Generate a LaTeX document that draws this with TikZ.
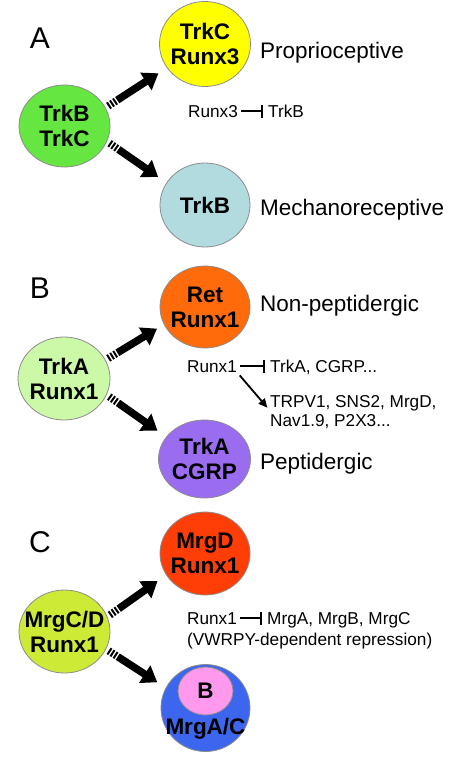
\documentclass[tikz,border=0pt]{standalone}
\usepackage{fontspec}
\setmainfont{Liberation Sans}
\usetikzlibrary{arrows.meta,shapes.geometric}
\definecolor{cTrkBC}{HTML}{66E641}
\definecolor{cTrkCR}{HTML}{FFFF00}
\definecolor{cTrkB}{HTML}{B2DBDF}
\definecolor{cTrkAR}{HTML}{CCF9A8}
\definecolor{cRet}{HTML}{FF6A0A}
\definecolor{cCGRP}{HTML}{9A6CF0}
\definecolor{cMrgCD}{HTML}{CDEB36}
\definecolor{cMrgD}{HTML}{FF3D06}
\definecolor{cMrgAC}{HTML}{3D66EE}
\definecolor{cMrgB}{HTML}{FF99EE}
\begin{document}
\begin{tikzpicture}[x=1pt,y=-1pt,
  cell/.style={ellipse,draw=black!45,line width=0.8pt,inner sep=0pt},
  celltext/.style={align=center,inner sep=0pt,font=\fontsize{22.5}{25}\selectfont\bfseries},
  panel/.style={font=\fontsize{30}{30}\selectfont},
  fate/.style={anchor=base west,inner sep=0pt,font=\fontsize{22.5}{27}\selectfont},
  gene/.style={anchor=base west,inner sep=0pt,font=\fontsize{17.2}{19}\selectfont},
  push/.style={line width=7.5pt,dash pattern=on 2pt off 1.6pt on 2pt off 1.6pt on 2pt off 1.6pt on 300pt,-{Triangle[width=20pt,length=15pt]}},
  block/.style={line width=2.2pt,-{Bar[width=13pt]},shorten <=3pt,shorten >=5pt},
  act/.style={line width=1.8pt,-{Triangle[width=8pt,length=9pt]},shorten <=4pt,shorten >=4pt}]
\useasboundingbox (0,0) rectangle (474,758);

\node[panel] (pa) at (40,38) {A};
\node[cell,fill=cTrkBC,minimum width=91pt,minimum height=82pt,label={[celltext]center:TrkB\\TrkC}] (trkbc) at (64.5,126) {};
\node[cell,fill=cTrkCR,minimum width=91pt,minimum height=85pt,label={[celltext]center:TrkC\\Runx3}] (trkcr) at (205,44) {};
\node[cell,fill=cTrkB,minimum width=90pt,minimum height=84pt,label={[celltext]center:TrkB}] (trkb) at (205,205) {};
\node[fate] (prop) at (260,58) {Proprioceptive};
\node[fate] (mech) at (260,215) {Mechanoreceptive};
\node[gene] (rxa) at (188,117) {Runx3};
\node[gene] (tba) at (268,117) {TrkB};
\draw[block] (rxa.east) -- (rxa.east -| tba.west);

\node[panel] (pb) at (40,288) {B};
\node[cell,fill=cTrkAR,minimum width=92pt,minimum height=83pt,label={[celltext]center:TrkA\\Runx1}] (trkar) at (64,378.5) {};
\node[cell,fill=cRet,minimum width=90pt,minimum height=82pt,label={[celltext]center:Ret\\Runx1}] (ret) at (205,307) {};
\node[cell,fill=cCGRP,minimum width=92pt,minimum height=78pt,label={[celltext]center:TrkA\\CGRP}] (cgrp) at (204.5,459) {};
\node[fate] (nonpep) at (260,311) {Non-peptidergic};
\node[fate] (pep) at (260,469) {Peptidergic};
\node[gene] (rxb) at (187,372) {Runx1};
\node[gene] (trka) at (270,372) {TrkA, CGRP...};
\node[gene] (trpv) at (270,407) {TRPV1, SNS2, MrgD,};
\node[gene] (nav) at (270,426) {Nav1.9, P2X3...};
\draw[block] (rxb.east) -- (rxb.east -| trka.west);
\draw[act] (rxb.south east) -- (trpv.south west);

\node[panel] (pc) at (40,542) {C};
\node[cell,fill=cMrgCD,minimum width=91pt,minimum height=83pt,label={[celltext]center:MrgC/D\\Runx1}] (mrgcd) at (64.5,631.5) {};
\node[cell,fill=cMrgD,minimum width=90pt,minimum height=83pt,label={[celltext]center:MrgD\\Runx1}] (mrgd) at (205,553.5) {};
\node[cell,fill=cMrgAC,minimum width=89pt,minimum height=87pt] (mrgac) at (205.5,708) {};
\node[cell,fill=cMrgB,minimum width=55pt,minimum height=48pt,label={[celltext]center:B}] (mrgb) at (205.5,691) {};
\node[celltext,anchor=base] (mrgactxt) at (205.5,734) {MrgA/C};
\node[gene] (rxc) at (187,624) {Runx1};
\node[gene] (mrgs) at (267,624) {MrgA, MrgB, MrgC};
\node[gene] (vwrpy) at (187,645) {(VWRPY-dependent repression)};
\draw[block] (rxc.east) -- (rxc.east -| mrgs.west);

\foreach \a/\b/\s in {trkbc.24/trkcr.212/10,trkbc.-20/trkb.150/10,trkar.24/ret.203/8,trkar.-21/cgrp.150/10.5,mrgcd.19/mrgd.209/10.5,mrgcd.-23/mrgac.153/10}
  \draw[push,shorten <=3pt,shorten >=\s pt] (\a) -- (\b);
\end{tikzpicture}
\end{document}
